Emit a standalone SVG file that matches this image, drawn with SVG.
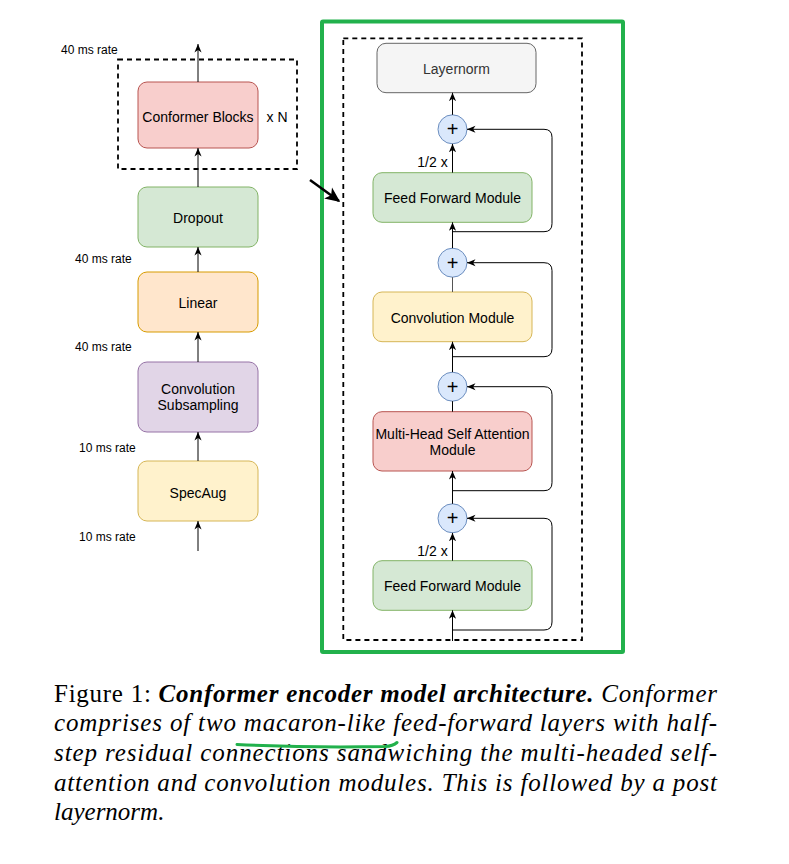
<svg xmlns="http://www.w3.org/2000/svg" width="789" height="864" viewBox="0 0 789 864">
<defs>
<marker id="arr" viewBox="0 0 10 10" refX="10" refY="5" markerWidth="8.5" markerHeight="8.5" markerUnits="userSpaceOnUse" orient="auto">
<path d="M0,0.8 L10,5 L0,9.2 L2.8,5 z" fill="#000"/>
</marker>
<marker id="bigarr" viewBox="0 0 10 10" refX="9" refY="5" markerWidth="15" markerHeight="15" markerUnits="userSpaceOnUse" orient="auto">
<path d="M0,0.5 L10,5 L0,9.5 L2.5,5 z" fill="#000"/>
</marker>
<style>
.box{stroke-width:1}
.t{font-family:"Liberation Sans",Arial,sans-serif;font-size:14px;fill:#000;text-anchor:middle}
.pl{font-family:"Liberation Sans",Arial,sans-serif;font-size:20px;fill:#000;text-anchor:middle}
.lbl{font-family:"Liberation Sans",Arial,sans-serif;font-size:12px;fill:#000}
.c{stroke:#000;stroke-width:1;fill:none}
.ca{stroke:#000;stroke-width:1;fill:none;marker-end:url(#arr)}
.dash{fill:none;stroke:#000;stroke-width:1.8;stroke-dasharray:5 4}
.red{fill:#f8cecc;stroke:#b85450}
.grn{fill:#d5e8d4;stroke:#82b366}
.org{fill:#ffe6cc;stroke:#d79b00}
.pur{fill:#e1d5e7;stroke:#9673a6}
.yel{fill:#fff2cc;stroke:#d6b656}
.gry{fill:#f5f5f5;stroke:#666666}
.blu{fill:#dae8fc;stroke:#6c8ebf}
.cap{font-family:"Liberation Serif","Times New Roman",serif;font-size:25px;fill:#000}
</style>
</defs>
<rect width="789" height="864" fill="#fff"/>

<!-- left column -->
<rect class="dash" x="118" y="59.5" width="179" height="109.5"/>
<g id="conformer-blocks"><rect class="box red" x="138" y="82" width="120" height="66" rx="9"/><text class="t" x="198" y="121.5">Conformer Blocks</text></g>
<g id="xN"><text class="t" x="277" y="121.5">x N</text></g>
<g id="dropout"><rect class="box grn" x="138" y="187" width="120" height="60" rx="9"/><text class="t" x="198" y="223.3">Dropout</text></g>
<g id="linear"><rect class="box org" x="138" y="272" width="120" height="60" rx="9"/><text class="t" x="198" y="308.3">Linear</text></g>
<g id="conv-sub"><rect class="box pur" x="138" y="362" width="120" height="70" rx="9"/><text class="t" x="198" y="394.3">Convolution</text><text class="t" x="198" y="410">Subsampling</text></g>
<g id="specaug"><rect class="box yel" x="138" y="461" width="120" height="60" rx="9"/><text class="t" x="198" y="497.7">SpecAug</text></g>
<g id="rate-labels">
<text class="lbl" x="61" y="53.5">40 ms rate</text>
<text class="lbl" x="75" y="262.5">40 ms rate</text>
<text class="lbl" x="75" y="351">40 ms rate</text>
<text class="lbl" x="79" y="451.5">10 ms rate</text>
<text class="lbl" x="79" y="541">10 ms rate</text>
</g>

<!-- right panel -->
<rect x="322" y="21.5" width="301" height="630.5" fill="none" stroke="#22b14c" stroke-width="4" rx="1"/>
<rect class="dash" x="343.3" y="38.3" width="238.7" height="601.7"/>
<g id="layernorm"><rect class="box gry" x="377" y="43.3" width="159" height="49.4" rx="9"/><text class="t" x="456.5" y="74.3" style="fill:#333">Layernorm</text></g>
<g id="ff1"><rect class="box grn" x="373" y="172.7" width="159" height="49.6" rx="9"/><text class="t" x="452.5" y="203.3">Feed Forward Module</text></g>
<g id="convmod"><rect class="box yel" x="373" y="292" width="159" height="49.7" rx="9"/><text class="t" x="452.5" y="323.3">Convolution Module</text></g>
<g id="mhsa"><rect class="box red" x="373" y="411.7" width="159" height="59.3" rx="9"/><text class="t" x="452.5" y="439">Multi-Head Self Attention</text><text class="t" x="452.5" y="455">Module</text></g>
<g id="ff2"><rect class="box grn" x="373" y="560.7" width="159" height="49.6" rx="9"/><text class="t" x="452.5" y="591">Feed Forward Module</text></g>
<g id="plus1"><circle class="blu" cx="452.5" cy="129.3" r="14.5"/><text class="pl" x="452.5" y="136.3">+</text></g>
<g id="plus2"><circle class="blu" cx="452.5" cy="262.7" r="14.5"/><text class="pl" x="452.5" y="269.7">+</text></g>
<g id="plus3"><circle class="blu" cx="452.5" cy="386.7" r="14.5"/><text class="pl" x="452.5" y="393.7">+</text></g>
<g id="plus4"><circle class="blu" cx="452.5" cy="518.3" r="14.5"/><text class="pl" x="452.5" y="525.3">+</text></g>
<g id="half-labels">
<text class="t" x="432.5" y="166.5">1/2 x</text>
<text class="t" x="432.5" y="556">1/2 x</text>
</g>

<g id="connectors">
<line class="ca" x1="198" y1="551" x2="198" y2="521"/>
<line class="ca" x1="198" y1="461" x2="198" y2="432"/>
<line class="ca" x1="198" y1="362" x2="198" y2="332"/>
<line class="ca" x1="198" y1="272" x2="198" y2="247"/>
<line class="ca" x1="198" y1="187" x2="198" y2="148"/>
<line class="ca" x1="198" y1="82" x2="198" y2="44"/>

<line class="ca" x1="452.5" y1="172.7" x2="452.5" y2="143.8"/>
<line class="ca" x1="452.5" y1="114.8" x2="452.5" y2="92.7"/>
<line class="ca" x1="452.5" y1="248.2" x2="452.5" y2="222.3"/>
<line class="c" x1="452.5" y1="292" x2="452.5" y2="277.2" style="stroke:#555"/>
<line class="ca" x1="452.5" y1="372.2" x2="452.5" y2="341.7"/>
<line class="c" x1="452.5" y1="411.7" x2="452.5" y2="401.2"/>
<line class="ca" x1="452.5" y1="503.8" x2="452.5" y2="471"/>
<line class="ca" x1="452.5" y1="560.7" x2="452.5" y2="532.8"/>
<line class="ca" x1="452.5" y1="641" x2="452.5" y2="610.3"/>

<path class="ca" d="M452.5,231.7 H544 Q552,231.7 552,223.7 V137.3 Q552,129.3 544,129.3 H467"/>
<path class="ca" d="M452.5,356.7 H544 Q552,356.7 552,348.7 V270.7 Q552,262.7 544,262.7 H467"/>
<path class="ca" d="M452.5,490.7 H544 Q552,490.7 552,482.7 V394.7 Q552,386.7 544,386.7 H467"/>
<path class="ca" d="M452.5,630 H544 Q552,630 552,622 V526.3 Q552,518.3 544,518.3 H467"/>

<line x1="310" y1="180" x2="339" y2="201" stroke="#000" stroke-width="2.5" marker-end="url(#bigarr)"/>
</g>

<!-- caption -->
<g id="caption">
<text class="cap" x="54" y="701.7" textLength="663" lengthAdjust="spacing">Figure 1: <tspan font-weight="bold" font-style="italic">Conformer encoder model architecture.</tspan><tspan font-style="italic"> Conformer</tspan></text>
<text class="cap" x="54" y="731" font-style="italic" textLength="663" lengthAdjust="spacing">comprises of two macaron-like feed-forward layers with half-</text>
<text class="cap" x="54" y="760.5" font-style="italic" textLength="663" lengthAdjust="spacing">step residual connections sandwiching the multi-headed self-</text>
<text class="cap" x="54" y="790.7" font-style="italic" textLength="663" lengthAdjust="spacing">attention and convolution modules. This is followed by a post</text>
<text class="cap" x="54" y="820" font-style="italic">layernorm.</text>
</g>
<path d="M237,744.5 Q310,748 385,746.5 Q393,746 397,742.5" fill="none" stroke="#22b14c" stroke-width="3" stroke-linecap="round"/>
</svg>
